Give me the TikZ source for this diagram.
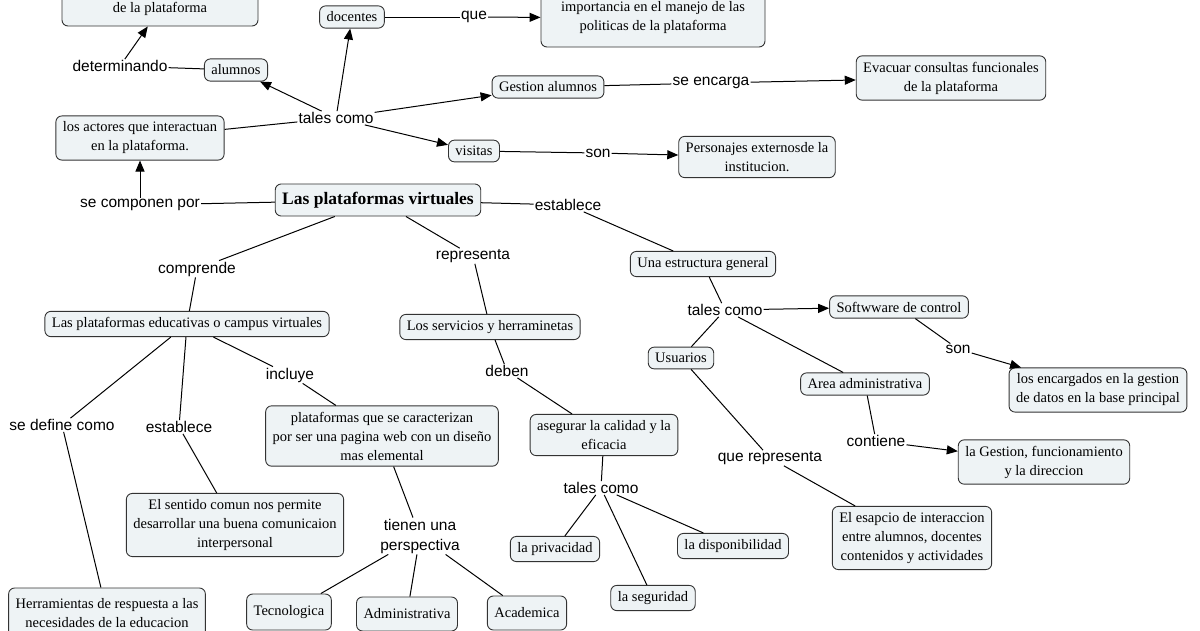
\documentclass[tikz,border=0pt]{standalone}
\usepackage{fontspec}
\setmainfont{Liberation Serif}
\newfontfamily\lblfont{Liberation Sans}
\usetikzlibrary{arrows.meta}
\definecolor{boxfill}{HTML}{EEF3F5}
\definecolor{boxline}{HTML}{333333}
\begin{document}
\begin{tikzpicture}[x=1pt,y=-1pt,
  box/.style={draw=boxline,fill=boxfill,rounded corners=6pt,line width=0.9pt,align=center,
    font=\fontsize{14.5}{19}\selectfont,inner xsep=7pt,inner ysep=6pt},
  lbl/.style={font=\lblfont\fontsize{15.5}{18}\selectfont,inner sep=1pt,align=center},
  ln/.style={line width=1pt,black},
  ar/.style={line width=1pt,black,-{Triangle[length=11pt,width=9pt]}}]
\useasboundingbox (0,0) rectangle (1200,630);
\clip (0,0) rectangle (1200,630);
% boxes
\node[box,minimum width=196pt,minimum height=34pt] (top1) at (160,9) {de la plataforma};
\node[box] (doc) at (352,17) {docentes};
\node[box,minimum width=224pt,minimum height=58pt] (top2) at (653,18) {importancia en el manejo de las\\politicas de la plataforma};
\node[box] (alu) at (236,70) {alumnos};
\node[box] (ges) at (548,87) {Gestion alumnos};
\node[box] (eva) at (951,78) {Evacuar consultas funcionales\\de la plataforma};
\node[box] (act) at (140,138) {los actores que interactuan\\en la plataforma.};
\node[box] (vis) at (474,151) {visitas};
\node[box] (per) at (757,157) {Personajes externosde la\\institucion.};
\node[box,font=\bfseries\fontsize{17.5}{20}\selectfont,inner ysep=8pt] (lpv) at (378,200) {Las plataformas virtuales};
\node[box] (est) at (703,264) {Una estructura general};
\node[box] (edu) at (187,324) {Las plataformas educativas o campus virtuales};
\node[box] (ser) at (490,327) {Los servicios y herraminetas};
\node[box] (sof) at (899,307) {Softwware de control};
\node[box] (usu) at (681,358) {Usuarios};
\node[box] (are) at (865,384) {Area administrativa};
\node[box] (enc) at (1098,390) {los encargados en la gestion\\de datos en la base principal};
\node[box] (pqc) at (382,436) {plataformas que se caracterizan\\por ser una pagina web con un dise\~no\\mas elemental};
\node[box] (ase) at (604,435) {asegurar la calidad y la\\eficacia};
\node[box] (lge) at (1044,462) {la Gestion, funcionamiento\\y la direccion};
\node[box] (sen) at (235,525) {El sentido comun nos permite\\desarrollar una buena comunicaion\\interpersonal};
\node[box] (esp) at (912,538) {El esapcio de interaccion\\entre alumnos, docentes\\contenidos y actividades};
\node[box] (pri) at (555,549) {la privacidad};
\node[box] (dis) at (733,546) {la disponibilidad};
\node[box] (seg) at (653,598) {la seguridad};
\node[box,minimum height=50pt] (her) at (107,613) {Herramientas de respuesta a las\\necesidades de la educacion};
\node[box,minimum height=36pt] (tec) at (289,612) {Tecnologica};
\node[box,minimum height=34pt] (adm) at (407,614) {Administrativa};
\node[box,minimum height=34pt] (aca) at (527,613) {Academica};
% labels
\node[lbl] (l1) at (120,66) {determinando};
\node[lbl] (l2) at (474,17) {que};
\node[lbl] (l3) at (336,118) {tales como};
\node[lbl] (l4) at (711,83) {se encarga};
\node[lbl] (l5) at (598,153) {son};
\node[lbl] (l6) at (140,205) {se componen por};
\node[lbl] (l7) at (568,205) {establece};
\node[lbl] (l8) at (197,269) {comprende};
\node[lbl] (l9) at (473,256) {representa};
\node[lbl] (l10) at (725,310) {tales como};
\node[lbl] (l11) at (958,349) {son};
\node[lbl] (l12) at (290,375) {incluye};
\node[lbl] (l13) at (507,371) {deben};
\node[lbl] (l14) at (62,425) {se define como};
\node[lbl] (l15) at (179,427) {establece};
\node[lbl] (l16) at (876,441) {contiene};
\node[lbl] (l17) at (770,458) {que representa};
\node[lbl] (l18) at (601,488) {tales como};
\node[lbl,font=\lblfont\fontsize{15.5}{20}\selectfont] (l19) at (420,536) {tienen una\\perspectiva};
% connectors
\draw[ln] (act) -- (l3);
\draw[ar] (l3) -- (alu);
\draw[ar] (l3) -- (doc);
\draw[ar] (l3) -- (ges);
\draw[ar] (l3) -- (vis);
\draw[ln] (alu) -- (l1); \draw[ar] (l1) -- (top1);
\draw[ln] (doc) -- (l2); \draw[ar] (l2) -- (top2);
\draw[ln] (ges) -- (l4); \draw[ar] (l4) -- (eva);
\draw[ln] (vis) -- (l5); \draw[ar] (l5) -- (per);
\draw[ln] (lpv) -- (l6); \draw[ar] (l6) -- (act);
\draw[ln] (lpv) -- (l7); \draw[ln] (l7) -- (est);
\draw[ln] (lpv) -- (l8); \draw[ln] (l8) -- (edu);
\draw[ln] (lpv) -- (l9); \draw[ln] (l9) -- (ser);
\draw[ln] (est) -- (l10); \draw[ar] (l10) -- (sof);
\draw[ln] (l10) -- (usu); \draw[ln] (l10) -- (are);
\draw[ln] (sof) -- (l11); \draw[ar] (l11) -- (enc);
\draw[ln] (are) -- (l16); \draw[ar] (l16) -- (lge);
\draw[ln] (usu) -- (l17); \draw[ln] (l17) -- (esp);
\draw[ln] (edu) -- (l14); \draw[ln] (l14) -- (her);
\draw[ln] (edu) -- (l15); \draw[ln] (l15) -- (sen);
\draw[ln] (edu) -- (l12); \draw[ln] (l12) -- (pqc);
\draw[ln] (pqc) -- (l19);
\draw[ln] (l19) -- (tec); \draw[ln] (l19) -- (adm); \draw[ln] (l19) -- (aca);
\draw[ln] (ser) -- (l13); \draw[ln] (l13) -- (ase);
\draw[ln] (ase) -- (l18);
\draw[ln] (l18) -- (pri); \draw[ln] (l18) -- (seg); \draw[ln] (l18) -- (dis);
\end{tikzpicture}
\end{document}
